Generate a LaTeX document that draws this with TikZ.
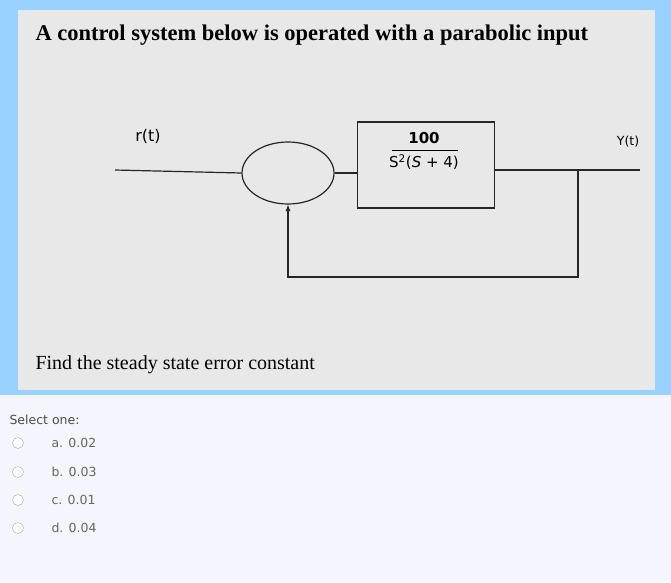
\documentclass[tikz,border=0pt]{standalone}
\usetikzlibrary{shapes.geometric}
\usepackage{fontspec}
\setmainfont{Liberation Serif}
\setsansfont{DejaVu Sans}
\begin{document}
\begin{tikzpicture}[x=1pt,y=-1pt,
  ln/.style={draw=black!85,line width=1.2pt},
  opt/.style={font=\sffamily\fontsize{12.5}{14}\selectfont,text=black!60,anchor=west},
  rad/.style={circle,draw=black!35,fill=white,minimum size=11pt,inner sep=0pt}]
\useasboundingbox (0,0) rectangle (671,582);
\fill[blue!45!cyan!40!white] (0,0) rectangle (671,582);
\fill[black!10!blue!4!white] (0,395) rectangle (671,582);
\fill[black!9] (18,10) rectangle (655,390);
\node[font=\bfseries\fontsize{22.5}{26}\selectfont,anchor=west] (title) at (32,35) {A control system below is operated with a parabolic input};
\node[font=\sffamily\fontsize{16}{18}\selectfont] (r) at (148,136) {r(t)};
\node[font=\sffamily\fontsize{12.5}{14}\selectfont] (y) at (628,142) {Y(t)};
\coordinate (rin) at (115,170);
\node[ellipse,draw=black!85,line width=1.2pt,minimum width=92pt,minimum height=62pt,inner sep=0pt] (sum) at (288,173) {};
\node[draw=black!85,line width=1.2pt,minimum width=137pt,minimum height=86pt] (g) at (426,165) {};
\node[font=\sffamily\bfseries\fontsize{15}{17}\selectfont] (num) at (424,138) {100};
\draw[line width=0.8pt] (392,150) -- (458,150);
\node[font=\sffamily\fontsize{15}{17}\selectfont] (den) at (424,162) {S\textsuperscript{2}(\textit{S} + 4)};
\coordinate (out) at (640,170);
\coordinate (tap) at (578,170);
\coordinate (c1) at (578,277);
\coordinate (c2) at (288,277);
\draw[ln] (rin) -- (sum.west);
\draw[ln] (sum.east) -- (g.west |- sum.east);
\draw[ln] (g.east |- out) -- (out);
\draw[ln,-latex] (tap) -- (c1) -- (c2) -- (sum.south);
\node[font=\fontsize{20}{23}\selectfont,anchor=west] (find) at (32,365) {Find the steady state error constant};
\node[opt,text=black!70] (sel) at (6,420) {Select one:};
\node[rad] (o1) at (18,443) {}; \node[opt] (a) at (48,443) {a. 0.02};
\node[rad] (o2) at (18,472) {}; \node[opt] (b) at (48,472) {b. 0.03};
\node[rad] (o3) at (18,500) {}; \node[opt] (c) at (48,500) {c. 0.01};
\node[rad] (o4) at (18,528) {}; \node[opt] (d) at (48,528) {d. 0.04};
\end{tikzpicture}
\end{document}
